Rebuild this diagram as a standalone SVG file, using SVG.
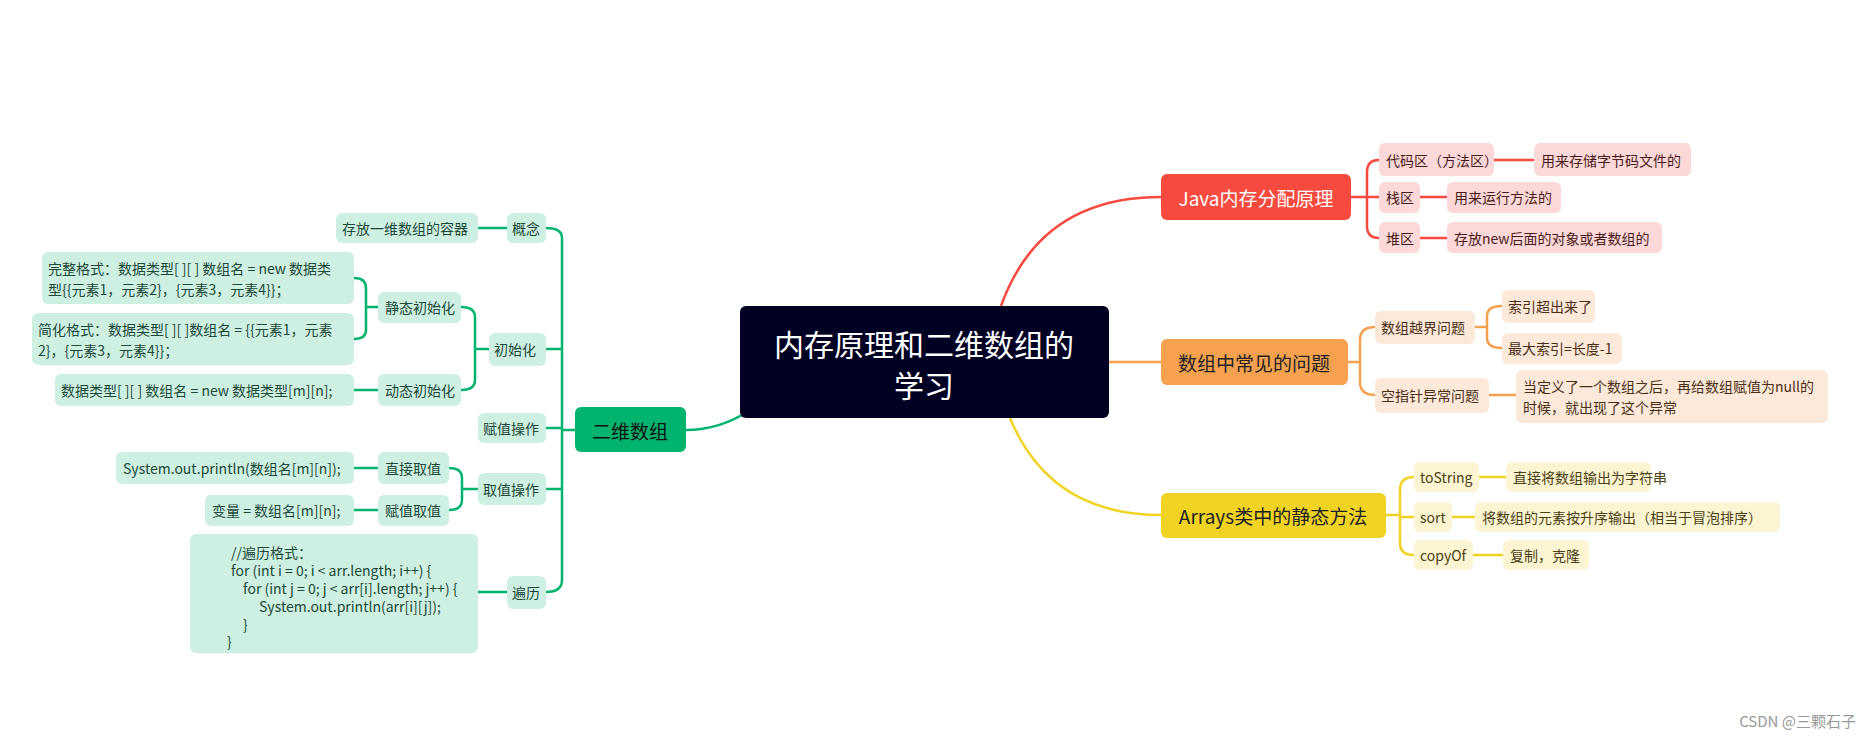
<svg xmlns="http://www.w3.org/2000/svg" width="1871" height="738" viewBox="0 0 1871 738">
<style>
text{font-family:"Noto Sans CJK SC","Noto Sans",sans-serif;font-size:14px;dominant-baseline:central}
text.big{font-size:30px}
text.mid{font-size:19px}
.g rect{fill:#cdf0e3}.g text{fill:#1d4a3a}
.r rect{fill:#fdd8d8}.r text{fill:#4a1b1b}
.o rect{fill:#fde9da}.o text{fill:#4a2e16}
.y rect{fill:#fdf5d2}.y text{fill:#4a4012}
.c path{fill:none;stroke-width:2.5}
</style>
<rect width="1871" height="738" fill="#fff"/>
<g class="c">
<path d="M750 410 Q720 430 686 430" stroke="#00b46e" stroke-width="3"/>
<path d="M1001 306 Q1040 197 1161 197" stroke="#f94a3f" stroke-width="3"/>
<path d="M1109 362 L1161 362" stroke="#f5a14f" stroke-width="3"/>
<path d="M1010 418 Q1050 515 1161 515" stroke="#f0d323" stroke-width="3"/>
<path d="M575 430 L562 430 M562 238 L562 580 M546 228 Q562 228 562 238 M546 349 L562 349 M546 428 L562 428 M546 489 L562 489 M546 592 Q562 592 562 580 M478 228 L507 228 M478 592 L507 592" stroke="#00b46e"/>
<path d="M489 349 L475 349 M475 317 L475 380 M461 307 Q475 307 475 317 M461 390 Q475 390 475 380 M354 278 Q366 278 366 288 M366 288 L366 330 M354 339 Q366 339 366 330 M366 307 L378 307 M354 390 L378 390 M354 468 L378 468 M354 510 L378 510 M449 468 Q462 468 462 478 M449 510 Q462 510 462 500 M462 478 L462 500 M462 489 L478 489" stroke="#00b46e"/>
<path d="M1351 197 L1367 197 M1379 160 Q1367 160 1367 172 M1367 172 L1367 226 M1379 238 Q1367 238 1367 226 M1367 197 L1379 197 M1494 160 L1534 160 M1420 197 L1447 197 M1420 238 L1447 238" stroke="#f94a3f"/>
<path d="M1348 362 L1360 362 M1375 327 Q1360 327 1360 340 M1360 340 L1360 382 M1375 395 Q1360 395 1360 382 M1475 327 L1487 327 M1502 306 Q1487 306 1487 316 M1487 316 L1487 338 M1502 348 Q1487 348 1487 338 M1489 395 L1516 395" stroke="#f5a14f"/>
<path d="M1386 515 L1400 515 M1414 477 Q1400 477 1400 490 M1400 490 L1400 543 M1414 555 Q1400 555 1400 543 M1400 517 L1414 517 M1479 477 L1506 477 M1452 517 L1475 517 M1473 555 L1503 555" stroke="#f0d323"/>
</g>
<g id="root"><rect x="740" y="306" width="369" height="112" rx="6" fill="#000022"/><text class="big" x="924" y="343" text-anchor="middle" fill="#fff">内存原理和二维数组的</text><text class="big" x="924" y="384" text-anchor="middle" fill="#fff">学习</text></g>
<g id="java"><rect x="1161" y="174" width="190" height="46" rx="6" fill="#f94a3f"/><text class="mid" x="1256" y="197" text-anchor="middle" fill="#fff">Java内存分配原理</text></g>
<g id="prob"><rect x="1161" y="339" width="187" height="46" rx="6" fill="#f5a14f"/><text class="mid" x="1254" y="362" text-anchor="middle" fill="#222">数组中常见的问题</text></g>
<g id="arrays"><rect x="1161" y="493" width="225" height="45" rx="6" fill="#f0d323"/><text class="mid" x="1273" y="515" text-anchor="middle" fill="#222">Arrays类中的静态方法</text></g>
<g id="twod"><rect x="575" y="407" width="111" height="45" rx="6" fill="#00b46e"/><text class="mid" x="630" y="430" text-anchor="middle" fill="#111">二维数组</text></g>
<g class="r">
<g id="r1"><rect x="1379" y="143" width="115" height="33" rx="6"/><text x="1386" y="160">代码区（方法区）</text></g>
<g id="r2"><rect x="1534" y="143" width="157" height="33" rx="6"/><text x="1541" y="160">用来存储字节码文件的</text></g>
<g id="r3"><rect x="1379" y="182" width="41" height="31" rx="6"/><text x="1386" y="197">栈区</text></g>
<g id="r4"><rect x="1447" y="182" width="114" height="31" rx="6"/><text x="1454" y="197">用来运行方法的</text></g>
<g id="r5"><rect x="1379" y="222" width="41" height="31" rx="6"/><text x="1386" y="238">堆区</text></g>
<g id="r6"><rect x="1447" y="222" width="215" height="31" rx="6"/><text x="1454" y="238">存放new后面的对象或者数组的</text></g>
</g>
<g class="o">
<g id="o1"><rect x="1375" y="311" width="100" height="33" rx="6"/><text x="1381" y="327">数组越界问题</text></g>
<g id="o2"><rect x="1502" y="290" width="93" height="33" rx="6"/><text x="1508" y="306">索引超出来了</text></g>
<g id="o3"><rect x="1502" y="333" width="120" height="31" rx="6"/><text x="1508" y="348">最大索引=长度-1</text></g>
<g id="o4"><rect x="1375" y="378" width="114" height="35" rx="6"/><text x="1381" y="395">空指针异常问题</text></g>
<g id="o5"><rect x="1516" y="370" width="312" height="53" rx="6"/><text x="1523" y="386">当定义了一个数组之后，再给数组赋值为null的</text><text x="1523" y="407">时候，就出现了这个异常</text></g>
</g>
<g class="y">
<g id="y1"><rect x="1414" y="462" width="65" height="30" rx="6"/><text x="1420" y="477">toString</text></g>
<g id="y2"><rect x="1506" y="462" width="145" height="30" rx="6"/><text x="1513" y="477">直接将数组输出为字符串</text></g>
<g id="y3"><rect x="1414" y="502" width="38" height="30" rx="6"/><text x="1420" y="517">sort</text></g>
<g id="y4"><rect x="1475" y="502" width="305" height="30" rx="6"/><text x="1482" y="517">将数组的元素按升序输出（相当于冒泡排序）</text></g>
<g id="y5"><rect x="1414" y="540" width="59" height="30" rx="6"/><text x="1420" y="555">copyOf</text></g>
<g id="y6"><rect x="1503" y="540" width="86" height="30" rx="6"/><text x="1510" y="555">复制，克隆</text></g>
</g>
<g class="g">
<g id="g1"><rect x="507" y="213" width="39" height="30" rx="6"/><text x="512" y="228">概念</text></g>
<g id="g2"><rect x="336" y="213" width="142" height="30" rx="6"/><text x="342" y="228">存放一维数组的容器</text></g>
<g id="g3"><rect x="489" y="333" width="57" height="33" rx="6"/><text x="494" y="349">初始化</text></g>
<g id="g4"><rect x="378" y="292" width="83" height="31" rx="6"/><text x="385" y="307">静态初始化</text></g>
<g id="g5"><rect x="42" y="252" width="312" height="52" rx="6"/><text x="48" y="268">完整格式：数据类型[ ][ ] 数组名 = new 数据类</text><text x="48" y="289">型{{元素1，元素2}，{元素3，元素4}}；</text></g>
<g id="g6"><rect x="32" y="313" width="322" height="52" rx="6"/><text x="38" y="329">简化格式：数据类型[ ][ ]数组名 = {{元素1，元素</text><text x="38" y="350">2}，{元素3，元素4}}；</text></g>
<g id="g7"><rect x="378" y="374" width="83" height="32" rx="6"/><text x="385" y="390">动态初始化</text></g>
<g id="g8"><rect x="55" y="374" width="299" height="32" rx="6"/><text x="61" y="390">数据类型[ ][ ] 数组名 = new 数据类型[m][n];</text></g>
<g id="g9"><rect x="478" y="413" width="68" height="30" rx="6"/><text x="483" y="428">赋值操作</text></g>
<g id="g10"><rect x="478" y="473" width="68" height="32" rx="6"/><text x="483" y="489">取值操作</text></g>
<g id="g11"><rect x="378" y="452" width="71" height="32" rx="6"/><text x="385" y="468">直接取值</text></g>
<g id="g12"><rect x="116" y="452" width="238" height="32" rx="6"/><text x="123" y="468">System.out.println(数组名[m][n]);</text></g>
<g id="g13"><rect x="378" y="495" width="71" height="31" rx="6"/><text x="385" y="510">赋值取值</text></g>
<g id="g14"><rect x="205" y="495" width="149" height="31" rx="6"/><text x="212" y="510">变量 = 数组名[m][n];</text></g>
<g id="g15"><rect x="507" y="576" width="39" height="33" rx="6"/><text x="512" y="592">遍历</text></g>
<g id="g16"><rect x="190" y="534" width="288" height="119" rx="6"/>
<text x="231" y="552">//遍历格式：</text><text x="231" y="570">for (int i = 0; i &lt; arr.length; i++) {</text><text x="243" y="588">for (int j = 0; j &lt; arr[i].length; j++) {</text><text x="259" y="606">System.out.println(arr[i][j]);</text><text x="243" y="624">}</text><text x="227" y="641">}</text></g>
</g>
<text x="1856" y="720" text-anchor="end" fill="#999" style="font-size:15px">CSDN @三颗石子</text>
</svg>
